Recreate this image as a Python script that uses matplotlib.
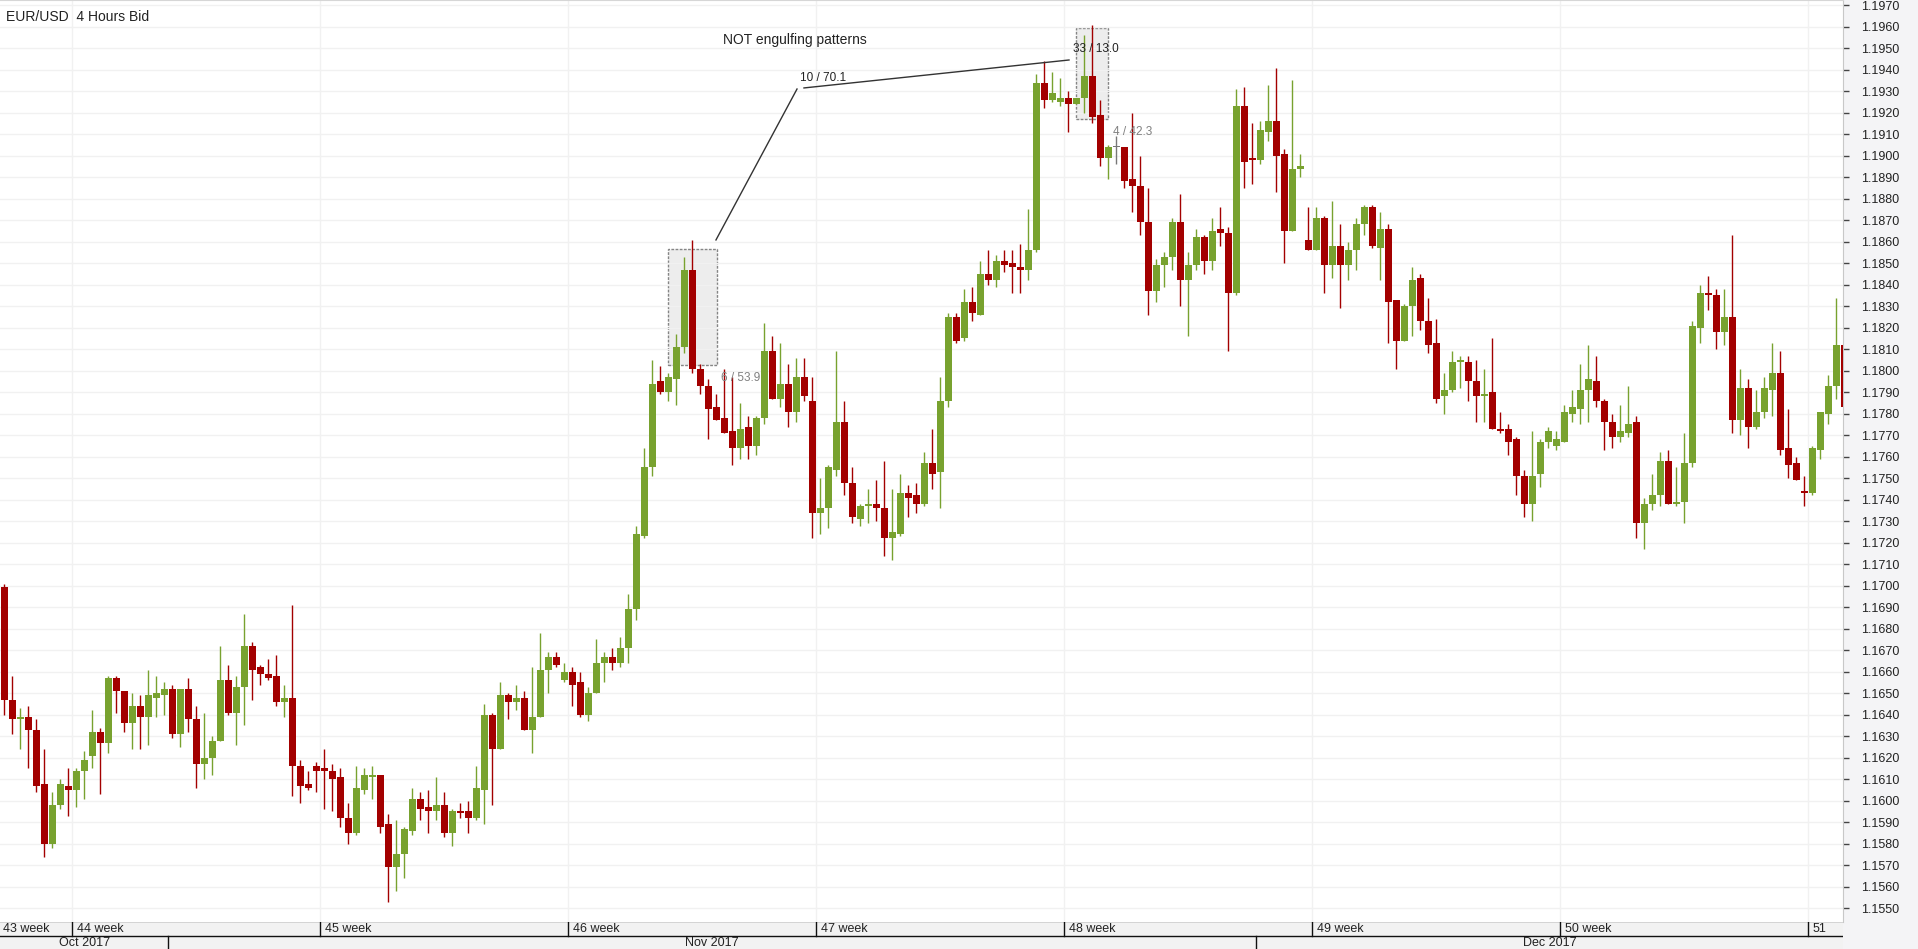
import matplotlib
matplotlib.use('Agg')
import matplotlib.pyplot as plt
from matplotlib.patches import Rectangle
import numpy as np

plt.rcParams['font.family'] = ['Liberation Sans', 'DejaVu Sans']

# EUR/USD 4h bid candles (oldest first)
opens = [
    1.16995, 1.1647, 1.1638, 1.1639, 1.1633, 1.1608, 1.1580, 1.1598, 1.1607, 1.1605,
    1.1614, 1.1621, 1.1632, 1.1627, 1.1657, 1.1651, 1.1636, 1.1644, 1.1639, 1.1648,
    1.1649, 1.1652, 1.1631, 1.1652, 1.1638, 1.1617, 1.1620, 1.1628, 1.1656, 1.1641,
    1.1653, 1.1672, 1.1662, 1.1659, 1.1658, 1.1646, 1.1648, 1.1616, 1.1608, 1.1616,
    1.1615, 1.1614, 1.1611, 1.1592, 1.1585, 1.1605, 1.1611, 1.1612, 1.1589, 1.1569,
    1.1575, 1.1586, 1.1601, 1.1597, 1.1595, 1.1598, 1.1585, 1.1595, 1.1595, 1.1592,
    1.1605, 1.1640, 1.1624, 1.1649, 1.1646, 1.1648, 1.1633, 1.1639, 1.1661, 1.1667,
    1.1656, 1.1660, 1.1655, 1.1640, 1.1650, 1.1664, 1.1667, 1.1664, 1.1671, 1.1689,
    1.1723, 1.1755, 1.1795, 1.1790, 1.1796, 1.1811, 1.1847, 1.1801, 1.1793, 1.1783,
    1.1778, 1.1772, 1.1764, 1.1774, 1.1765, 1.1778, 1.1809, 1.1787, 1.1794, 1.1781,
    1.1797, 1.1786, 1.1734, 1.1736, 1.1754, 1.1776, 1.1748, 1.1731, 1.1737, 1.1738,
    1.1736, 1.1722, 1.1724, 1.1743, 1.1742, 1.1738, 1.1757, 1.1753, 1.1786, 1.1825,
    1.1815, 1.1832, 1.1826, 1.1845, 1.1842, 1.1851, 1.1850, 1.1848, 1.1847, 1.1856,
    1.1934, 1.1926, 1.1925, 1.1927, 1.1924, 1.1927, 1.1937, 1.1919, 1.1899, 1.1904,
    1.1904, 1.1889, 1.1886, 1.1869, 1.1837, 1.1849, 1.1853, 1.1869, 1.1842, 1.1849,
    1.1862, 1.1851, 1.1866, 1.1864, 1.1836, 1.1923, 1.1899, 1.1898, 1.1911, 1.1916,
    1.1901, 1.1865, 1.1894, 1.1861, 1.1856, 1.1871, 1.1849, 1.1858, 1.1849, 1.1856,
    1.1868, 1.1876, 1.1857, 1.1866, 1.1833, 1.1814, 1.1830, 1.1843, 1.1823, 1.1813,
    1.1788, 1.1791, 1.1804, 1.1804, 1.1795, 1.1788, 1.1790, 1.1773, 1.1773, 1.1768,
    1.1751, 1.1738, 1.1752, 1.1767, 1.1765, 1.1767, 1.1780, 1.1782, 1.1791, 1.1795,
    1.1786, 1.1776, 1.1769, 1.1771, 1.1776, 1.1729, 1.1738, 1.1742, 1.1758, 1.1738,
    1.1739, 1.1757, 1.1820, 1.1836, 1.1835, 1.1818, 1.1825, 1.1777, 1.1792, 1.1774,
    1.1781, 1.1791, 1.1799, 1.1764, 1.1757, 1.1744, 1.1743, 1.1763, 1.1780, 1.1793,
    1.1812]
highs = [
    1.1701, 1.1658, 1.1643, 1.1644, 1.1638, 1.1624, 1.1604, 1.1610, 1.1615, 1.1615,
    1.1623, 1.1642, 1.1634, 1.1658, 1.1658, 1.1651, 1.1650, 1.1649, 1.1661, 1.1658,
    1.1655, 1.1654, 1.1652, 1.1657, 1.1644, 1.1641, 1.1630, 1.1672, 1.1663, 1.1658,
    1.1687, 1.1674, 1.1663, 1.1666, 1.1668, 1.1654, 1.1691, 1.1619, 1.1614, 1.1618,
    1.1624, 1.1617, 1.1615, 1.1599, 1.1616, 1.1615, 1.1616, 1.1612, 1.1594, 1.1591,
    1.1588, 1.1606, 1.1604, 1.1605, 1.1611, 1.1604, 1.1596, 1.1599, 1.1600, 1.1616,
    1.1645, 1.1641, 1.1655, 1.1650, 1.1654, 1.1651, 1.1662, 1.1678, 1.1669, 1.1669,
    1.1664, 1.1662, 1.1660, 1.1653, 1.1675, 1.1669, 1.1671, 1.1676, 1.1696, 1.1728,
    1.1764, 1.1805, 1.1802, 1.1799, 1.1817, 1.1853, 1.1861, 1.1803, 1.1796, 1.1789,
    1.1801, 1.1797, 1.1785, 1.1779, 1.1779, 1.1822, 1.1816, 1.1813, 1.1803, 1.1806,
    1.1806, 1.1797, 1.1750, 1.1756, 1.1809, 1.1786, 1.1755, 1.1738, 1.1745, 1.1749,
    1.1758, 1.1745, 1.1752, 1.1747, 1.1748, 1.1762, 1.1773, 1.1797, 1.1827, 1.1827,
    1.1838, 1.1839, 1.1851, 1.1856, 1.1854, 1.1856, 1.1856, 1.1859, 1.1875, 1.1938,
    1.1944, 1.1939, 1.1936, 1.1930, 1.1927, 1.1956, 1.1961, 1.1926, 1.1905, 1.1909,
    1.1904, 1.1920, 1.1900, 1.1885, 1.1852, 1.1855, 1.1871, 1.1882, 1.1855, 1.1866,
    1.1863, 1.1871, 1.1876, 1.1867, 1.1931, 1.1932, 1.1915, 1.1916, 1.1933, 1.1941,
    1.1903, 1.1935, 1.1901, 1.1876, 1.1876, 1.1872, 1.1879, 1.1868, 1.1860, 1.1871,
    1.1877, 1.1877, 1.1874, 1.1868, 1.1833, 1.1831, 1.1848, 1.1845, 1.1834, 1.1824,
    1.1799, 1.1809, 1.1807, 1.1807, 1.1805, 1.1801, 1.1815, 1.1781, 1.1775, 1.1769,
    1.1754, 1.1772, 1.1768, 1.1774, 1.1772, 1.1784, 1.1791, 1.1803, 1.1812, 1.1807,
    1.1787, 1.1780, 1.1784, 1.1793, 1.1779, 1.1741, 1.1752, 1.1762, 1.1763, 1.1755,
    1.1771, 1.1823, 1.1840, 1.1844, 1.1838, 1.1838, 1.1863, 1.1801, 1.1796, 1.1791,
    1.1797, 1.1813, 1.1809, 1.1782, 1.1760, 1.1751, 1.1765, 1.1781, 1.1798, 1.1834,
    1.1812]
lows = [
    1.1640, 1.1631, 1.1624, 1.1615, 1.1604, 1.1574, 1.1578, 1.1596, 1.1593, 1.1597,
    1.1601, 1.1615, 1.1603, 1.1622, 1.1641, 1.1632, 1.1624, 1.1624, 1.1626, 1.1639,
    1.1640, 1.1629, 1.1625, 1.1632, 1.1606, 1.1610, 1.1612, 1.1628, 1.1640, 1.1626,
    1.1635, 1.1647, 1.1654, 1.1656, 1.1644, 1.1639, 1.1602, 1.1599, 1.1605, 1.1604,
    1.1596, 1.1595, 1.1588, 1.1580, 1.1584, 1.1603, 1.1601, 1.1585, 1.1553, 1.1558,
    1.1564, 1.1584, 1.1591, 1.1585, 1.1591, 1.1583, 1.1579, 1.1592, 1.1585, 1.1591,
    1.1589, 1.1598, 1.1624, 1.1638, 1.1642, 1.1633, 1.1622, 1.1639, 1.1650, 1.1662,
    1.1655, 1.1644, 1.1639, 1.1637, 1.1650, 1.1655, 1.1661, 1.1662, 1.1664, 1.1684,
    1.1722, 1.1751, 1.1789, 1.1786, 1.1784, 1.1808, 1.1799, 1.1789, 1.1768, 1.1777,
    1.1771, 1.1756, 1.1759, 1.1759, 1.1761, 1.1775, 1.1787, 1.1783, 1.1774, 1.1776,
    1.1786, 1.1722, 1.1724, 1.1727, 1.1751, 1.1742, 1.1729, 1.1728, 1.1729, 1.1730,
    1.1714, 1.1712, 1.1723, 1.1732, 1.1734, 1.1737, 1.1745, 1.1736, 1.1783, 1.1813,
    1.1814, 1.1823, 1.1826, 1.1840, 1.1839, 1.1846, 1.1836, 1.1836, 1.1842, 1.1855,
    1.1922, 1.1925, 1.1923, 1.1911, 1.1924, 1.1920, 1.1915, 1.1895, 1.1889, 1.1896,
    1.1885, 1.1874, 1.1863, 1.1826, 1.1832, 1.1839, 1.1847, 1.1830, 1.1816, 1.1847,
    1.1845, 1.1847, 1.1858, 1.1809, 1.1835, 1.1885, 1.1887, 1.1896, 1.1907, 1.1883,
    1.1850, 1.1865, 1.1890, 1.1856, 1.1856, 1.1836, 1.1843, 1.1829, 1.1842, 1.1847,
    1.1863, 1.1857, 1.1842, 1.1813, 1.1801, 1.1814, 1.1816, 1.1819, 1.1808, 1.1785,
    1.1780, 1.1790, 1.1792, 1.1786, 1.1776, 1.1776, 1.1773, 1.1771, 1.1761, 1.1742,
    1.1732, 1.1730, 1.1746, 1.1764, 1.1763, 1.1767, 1.1776, 1.1775, 1.1776, 1.1783,
    1.1763, 1.1764, 1.1767, 1.1769, 1.1722, 1.1717, 1.1735, 1.1737, 1.1738, 1.1737,
    1.1729, 1.1755, 1.1813, 1.1828, 1.1810, 1.1812, 1.1771, 1.1770, 1.1764, 1.1773,
    1.1778, 1.1779, 1.1761, 1.1750, 1.1749, 1.1737, 1.1742, 1.1759, 1.1775, 1.1787,
    1.1782]
closes = [
    1.1647, 1.1638, 1.1639, 1.1633, 1.1607, 1.1580, 1.1598, 1.1608, 1.1605, 1.1614,
    1.1619, 1.1632, 1.1627, 1.1657, 1.1651, 1.1636, 1.1644, 1.1639, 1.1649, 1.1650,
    1.1652, 1.1631, 1.1652, 1.1638, 1.1617, 1.1620, 1.1628, 1.1656, 1.1641, 1.1653,
    1.1672, 1.1661, 1.1659, 1.1657, 1.1646, 1.1648, 1.1616, 1.1607, 1.1606, 1.1614,
    1.1614, 1.1610, 1.1592, 1.1585, 1.1606, 1.1612, 1.1612, 1.1588, 1.1569, 1.1575,
    1.1587, 1.1601, 1.1596, 1.1595, 1.1598, 1.1585, 1.1595, 1.15945, 1.1592, 1.1606,
    1.1640, 1.1624, 1.1649, 1.1646, 1.1648, 1.1633, 1.1639, 1.1661, 1.1667, 1.1663,
    1.1660, 1.1654, 1.1640, 1.1650, 1.1664, 1.1667, 1.1664, 1.1671, 1.1689, 1.1724,
    1.1755, 1.1794, 1.1790, 1.1797, 1.1811, 1.1847, 1.1801, 1.1793, 1.1782, 1.1777,
    1.1771, 1.1764, 1.1773, 1.1765, 1.1778, 1.1809, 1.1787, 1.1794, 1.1781, 1.1797,
    1.1788, 1.1734, 1.1736, 1.1755, 1.1776, 1.1748, 1.1732, 1.1737, 1.1738, 1.1736,
    1.1722, 1.1725, 1.1743, 1.1741, 1.1738, 1.1757, 1.1752, 1.1786, 1.1825, 1.1814,
    1.1832, 1.1827, 1.1845, 1.1842, 1.1851, 1.1849, 1.1848, 1.1847, 1.1856, 1.1934,
    1.1926, 1.1929, 1.1927, 1.1924, 1.1927, 1.1937, 1.1918, 1.1899, 1.1904, 1.1904,
    1.1888, 1.1886, 1.1869, 1.1837, 1.1849, 1.1853, 1.1869, 1.1842, 1.1849, 1.1862,
    1.1851, 1.1865, 1.1864, 1.1836, 1.1923, 1.1897, 1.1898, 1.1912, 1.1916, 1.1900,
    1.1865, 1.1894, 1.1895, 1.1856, 1.1871, 1.1849, 1.1858, 1.1849, 1.1856, 1.1868,
    1.1876, 1.1858, 1.1866, 1.1832, 1.1814, 1.1830, 1.1842, 1.1823, 1.1812, 1.1787,
    1.1791, 1.1804, 1.1805, 1.1795, 1.1788, 1.1789, 1.1773, 1.1772, 1.1767, 1.1751,
    1.1738, 1.1751, 1.1767, 1.1772, 1.1768, 1.1781, 1.1783, 1.1791, 1.1796, 1.1786,
    1.1776, 1.1769, 1.1772, 1.1775, 1.1729, 1.1738, 1.1742, 1.1758, 1.1738, 1.1739,
    1.1757, 1.1821, 1.1836, 1.1835, 1.1818, 1.1825, 1.1777, 1.1792, 1.1774, 1.1781,
    1.1792, 1.1799, 1.1763, 1.1756, 1.1749, 1.1743, 1.1764, 1.1781, 1.1793, 1.1812,
    1.1783]

# time axis: index of first candle of each week / month
week_starts = [9, 40, 71, 102, 133, 164, 195, 226]
week_labels = ['43 week', '44 week', '45 week', '46 week', '47 week',
               '48 week', '49 week', '50 week', '51']
month_starts = [21, 157]
month_labels = ['Oct 2017', 'Nov 2017', 'Dec 2017']

# price ticks on the right
price_ticks = np.round(np.arange(1.1550, 1.19705, 0.0010), 4)

GREEN = '#78a22f'
RED = '#a30000'
GRAY = '#777777'

o = np.array(opens)
h = np.array(highs)
l = np.array(lows)
c = np.array(closes)
x = np.arange(len(o))
cols = np.where(c > o, GREEN, np.where(c < o, RED, GRAY))

W, H = 1918, 949
plot_r = 1843
bar_h = 27
fig = plt.figure(figsize=(W / 100, H / 100), dpi=100)

# right price panel background
fig.add_artist(Rectangle((plot_r / W, 0), 1 - plot_r / W, 1, transform=fig.transFigure,
                         facecolor='#f4f4f6', edgecolor='none', zorder=-1))

ax = fig.add_axes([0, bar_h / H, plot_r / W, 1 - bar_h / H])
xmin, xmax = -0.5375, 229.84
ax.set_xlim(xmin, xmax)
ax.set_ylim(1.15436, 1.19724)

# grid
ax.set_yticks(price_ticks)
ax.set_yticklabels(['%.4f' % t for t in price_ticks])
ax.grid(axis='y', color='#f1f1f1', lw=1, zorder=0)
for ws in week_starts:
    ax.axvline(ws - 0.5, color='#f1f1f1', lw=1, zorder=0)

# annotation boxes
ax.add_patch(Rectangle((83, 1.18025), 6.05, 0.0054, facecolor='#e6e6e6', alpha=0.7,
                       edgecolor='#555555', ls=(0, (2, 1)), lw=1, zorder=1.5))
ax.add_patch(Rectangle((134, 1.19171), 4, 0.00421, facecolor='#e6e6e6', alpha=0.7,
                       edgecolor='#555555', ls=(0, (2, 1)), lw=1, zorder=1.5))

# candles
ax.vlines(x, l, h, colors=cols, lw=1.0, zorder=2)
body_lo = np.minimum(o, c)
body_h = np.maximum(np.abs(c - o), 0.00006)
ax.bar(x, body_h, width=0.86, bottom=body_lo, color=cols, linewidth=0, zorder=3)

# annotation lines and labels
ax.plot([88.96, 99.09], [1.18608, 1.19310], color='#333333', lw=1, zorder=4)
ax.plot([99.96, 133.09], [1.19315, 1.19445], color='#333333', lw=1, zorder=4)
ax.text(89.84, 1.19538, 'NOT engulfing patterns', fontsize=10, color='#222222',
        va='center', ha='left', zorder=5)
ax.text(99.46, 1.19361, '10 / 70.1', fontsize=8.5, color='#222222', va='center', zorder=5)
ax.text(133.55, 1.19498, '33 / 13.0', fontsize=8.5, color='#222222', va='center', zorder=5)
ax.text(89.55, 1.17967, '6 / 53.9', fontsize=8.5, color='#808080', va='center', zorder=5)
ax.text(138.55, 1.19111, '4 / 42.3', fontsize=8.5, color='#808080', va='center', zorder=5)

ax.yaxis.tick_right()
ax.tick_params(axis='y', length=4.3, width=1, color='#444444', pad=8.5,
               labelsize=9, labelcolor='#222222')
ax.tick_params(axis='x', bottom=False, labelbottom=False)
for s in ['left', 'bottom']:
    ax.spines[s].set_visible(False)
ax.spines['top'].set_color('#d6d6d6')
ax.spines['right'].set_color('#c8c8c8')

fig.text(6 / W, 1 - 17 / H, 'EUR/USD  4 Hours Bid', fontsize=10, color='#222222',
         va='center', ha='left')

# time bar
tb = fig.add_axes([0, 0, plot_r / W, bar_h / H])
tb.set_xlim(xmin, xmax)
tb.set_ylim(0, 1)
tb.set_facecolor('#f2f2f2')
tb.set_xticks([])
tb.set_yticks([])
for s in tb.spines.values():
    s.set_visible(False)
sep = 13 / bar_h
tb.axhline(1, color='#cfcfcf', lw=1.2)
tb.axhline(sep, color='#111111', lw=1)
wl = 0.74
tb.text(-0.125, wl, week_labels[0], fontsize=9, color='#222222', va='center', ha='left')
for ws, lab in zip(week_starts, week_labels[1:]):
    tb.plot([ws - 0.5, ws - 0.5], [sep, 1], color='#111111', lw=1)
    tb.text(ws - 0.5 + 0.55, wl, lab, fontsize=9, color='#222222', va='center', ha='left')
edges = [xmin] + [m - 0.5 for m in month_starts] + [xmax]
for i, lab in enumerate(month_labels):
    tb.text((edges[i] + edges[i + 1]) / 2, 0.24, lab, fontsize=9, color='#222222',
            va='center', ha='center')
for m in month_starts:
    tb.plot([m - 0.5, m - 0.5], [0, sep], color='#111111', lw=1)

fig.savefig('out.png', dpi=100)
